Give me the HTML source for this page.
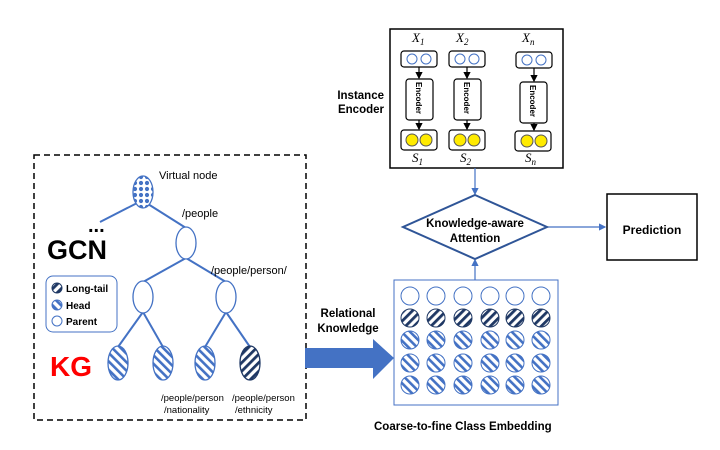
<!DOCTYPE html>
<html><head><meta charset="utf-8"><style>
body{margin:0;background:#fff;}
svg{display:block;font-family:"Liberation Sans",sans-serif;}
</style></head><body>
<svg width="720" height="450" viewBox="0 0 720 450" xmlns="http://www.w3.org/2000/svg">
<defs>
<pattern id="head" patternUnits="userSpaceOnUse" width="6" height="6" patternTransform="rotate(-45)">
<rect width="6" height="6" fill="#fff"/><rect width="2.6" height="6" fill="#4472c4"/></pattern>
<pattern id="tail" patternUnits="userSpaceOnUse" width="6" height="6" patternTransform="rotate(45)">
<rect width="6" height="6" fill="#fff"/><rect width="2.8" height="6" fill="#1f3864"/></pattern>
<pattern id="dots" patternUnits="userSpaceOnUse" width="6" height="6">
<rect width="6" height="6" fill="#fff"/><circle cx="3" cy="3" r="2.1" fill="#4472c4"/></pattern>
<marker id="ar" markerWidth="6" markerHeight="6" refX="5" refY="3" orient="auto"><path d="M0,0 L6,3 L0,6z" fill="#4472c4"/></marker>
<marker id="ak" markerWidth="6" markerHeight="6" refX="5" refY="3" orient="auto"><path d="M0,0 L6,3 L0,6z" fill="#000"/></marker>
</defs>

<rect x="34" y="155" width="272" height="265" fill="none" stroke="#000" stroke-width="1.5" stroke-dasharray="6,4"/>

<g stroke="#4472c4" stroke-width="2" fill="none">
<line x1="143" y1="200" x2="100" y2="222"/>
<line x1="148" y1="204" x2="186" y2="228"/>
<line x1="186" y1="258" x2="143" y2="282"/>
<line x1="186" y1="258" x2="226" y2="282"/>
<line x1="143" y1="312" x2="118" y2="347"/>
<line x1="143" y1="312" x2="163" y2="347"/>
<line x1="226" y1="312" x2="205" y2="347"/>
<line x1="226" y1="312" x2="250" y2="347"/>
</g>
<g stroke="#4472c4" stroke-width="1.3">
<ellipse cx="143" cy="192" rx="10" ry="16" fill="url(#dots)"/>
<ellipse cx="186" cy="243" rx="10" ry="16" fill="#fff"/>
<ellipse cx="143" cy="297" rx="10" ry="16" fill="#fff"/>
<ellipse cx="226" cy="297" rx="10" ry="16" fill="#fff"/>
<ellipse cx="118" cy="363" rx="10" ry="17" fill="url(#head)"/>
<ellipse cx="163" cy="363" rx="10" ry="17" fill="url(#head)"/>
<ellipse cx="205" cy="363" rx="10" ry="17" fill="url(#head)"/>
<ellipse cx="250" cy="363" rx="10" ry="17" fill="url(#tail)" stroke="#1f3864"/>
</g>
<text x="159" y="179" font-size="11">Virtual node</text>
<text x="182" y="217" font-size="11">/people</text>
<text x="211" y="274" font-size="11">/people/person/</text>
<text x="88" y="232" font-size="20" font-weight="bold">...</text>
<text x="47" y="259" font-size="27" font-weight="bold">GCN</text>
<text x="50" y="376" font-size="28" font-weight="bold" fill="#ff0000">KG</text>
<g font-size="9.5">
<text x="161" y="401">/people/person</text>
<text x="164" y="413">/nationality</text>
<text x="232" y="401">/people/person</text>
<text x="235" y="413">/ethnicity</text>
</g>
<rect x="46" y="276" width="71" height="56" rx="7" fill="#fff" stroke="#4472c4" stroke-width="1"/>
<g stroke="#1f3864" stroke-width="1">
<circle cx="57" cy="288" r="5" fill="url(#tail)"/>
<circle cx="57" cy="305" r="5" fill="url(#head)" stroke="#4472c4"/>
<circle cx="57" cy="321" r="5" fill="#fff" stroke="#4472c4"/>
</g>
<g font-size="10" font-weight="bold">
<text x="66" y="292">Long-tail</text>
<text x="66" y="309">Head</text>
<text x="66" y="325">Parent</text>
</g>

<path d="M305,348 L373,348 L373,339 L394,358 L373,379 L373,368 L305,368z" fill="#4472c4"/>
<text x="348" y="317" font-size="11.5" font-weight="bold" text-anchor="middle">Relational</text>
<text x="348" y="332" font-size="11.5" font-weight="bold" text-anchor="middle">Knowledge</text>

<text x="384" y="99" font-size="11.5" font-weight="bold" text-anchor="end">Instance</text>
<text x="384" y="113" font-size="11.5" font-weight="bold" text-anchor="end">Encoder</text>
<rect x="390" y="29" width="173" height="139" fill="#fff" stroke="#000" stroke-width="1.5"/>
<g font-family="Liberation Serif,serif" font-style="italic" font-size="13">
<text x="412" y="42">X<tspan font-size="9" dy="3">1</tspan></text>
<text x="456" y="42">X<tspan font-size="9" dy="3">2</tspan></text>
<text x="522" y="42">X<tspan font-size="9" dy="3">n</tspan></text>
<text x="412" y="162">S<tspan font-size="9" dy="3">1</tspan></text>
<text x="460" y="162">S<tspan font-size="9" dy="3">2</tspan></text>
<text x="525" y="162">S<tspan font-size="9" dy="3">n</tspan></text>
</g>
<g stroke="#000" stroke-width="1.2">
<rect x="401" y="51" width="36" height="16" rx="3" fill="#fff"/>
<rect x="406" y="79" width="27" height="41" rx="3" fill="#fff"/>
<rect x="401" y="130" width="36" height="20" rx="3" fill="#fff"/>
<line x1="419" y1="67" x2="419" y2="78" marker-end="url(#ak)"/>
<line x1="419" y1="120" x2="419" y2="129" marker-end="url(#ak)"/>
<rect x="449" y="51" width="36" height="16" rx="3" fill="#fff"/>
<rect x="454" y="79" width="27" height="41" rx="3" fill="#fff"/>
<rect x="449" y="130" width="36" height="20" rx="3" fill="#fff"/>
<line x1="467" y1="67" x2="467" y2="78" marker-end="url(#ak)"/>
<line x1="467" y1="120" x2="467" y2="129" marker-end="url(#ak)"/>
<rect x="516" y="52" width="36" height="16" rx="3" fill="#fff"/>
<rect x="520" y="82" width="27" height="41" rx="3" fill="#fff"/>
<rect x="515" y="131" width="36" height="20" rx="3" fill="#fff"/>
<line x1="534" y1="68" x2="534" y2="81" marker-end="url(#ak)"/>
<line x1="534" y1="123" x2="534" y2="130" marker-end="url(#ak)"/>
</g>
<g stroke="#4472c4" fill="#fff" stroke-width="1">
<circle cx="412" cy="59" r="5"/><circle cx="426" cy="59" r="5"/>
<circle cx="460" cy="59" r="5"/><circle cx="474" cy="59" r="5"/>
<circle cx="527" cy="60" r="5"/><circle cx="541" cy="60" r="5"/>
</g>
<g stroke="#555" fill="#ffeb00" stroke-width="1">
<circle cx="412" cy="140" r="6"/><circle cx="426" cy="140" r="6"/>
<circle cx="460" cy="140" r="6"/><circle cx="474" cy="140" r="6"/>
<circle cx="527" cy="141" r="6"/><circle cx="541" cy="141" r="6"/>
</g>
<g font-size="8" font-weight="bold">
<text transform="translate(416,82) rotate(90)">Encoder</text>
<text transform="translate(464,82) rotate(90)">Encoder</text>
<text transform="translate(530,85) rotate(90)">Encoder</text>
</g>

<line x1="475" y1="168" x2="475" y2="194" stroke="#4472c4" stroke-width="1.2" marker-end="url(#ar)"/>
<line x1="475" y1="280" x2="475" y2="260" stroke="#4472c4" stroke-width="1.2" marker-end="url(#ar)"/>
<line x1="547" y1="227" x2="605" y2="227" stroke="#4472c4" stroke-width="1.2" marker-end="url(#ar)"/>

<path d="M475,195 L547,227 L475,259 L403,227z" fill="#fff" stroke="#2f5597" stroke-width="2"/>
<text x="475" y="227" font-size="11.5" font-weight="bold" text-anchor="middle">Knowledge-aware</text>
<text x="475" y="242" font-size="11.5" font-weight="bold" text-anchor="middle">Attention</text>

<rect x="607" y="194" width="90" height="66" fill="#fff" stroke="#000" stroke-width="1.5"/>
<text x="652" y="234" font-size="12" font-weight="bold" text-anchor="middle">Prediction</text>

<rect x="394" y="280" width="164" height="125" fill="#fff" stroke="#4472c4" stroke-width="1"/>
<g stroke-width="1">
<g stroke="#4472c4" fill="#fff">
<circle cx="410" cy="296" r="9"/><circle cx="436" cy="296" r="9"/><circle cx="463" cy="296" r="9"/><circle cx="490" cy="296" r="9"/><circle cx="515" cy="296" r="9"/><circle cx="541" cy="296" r="9"/>
</g>
<g stroke="#1f3864" fill="url(#tail)">
<circle cx="410" cy="318" r="9"/><circle cx="436" cy="318" r="9"/><circle cx="463" cy="318" r="9"/><circle cx="490" cy="318" r="9"/><circle cx="515" cy="318" r="9"/><circle cx="541" cy="318" r="9"/>
</g>
<g stroke="#4472c4" fill="url(#head)">
<circle cx="410" cy="340" r="9"/><circle cx="436" cy="340" r="9"/><circle cx="463" cy="340" r="9"/><circle cx="490" cy="340" r="9"/><circle cx="515" cy="340" r="9"/><circle cx="541" cy="340" r="9"/>
<circle cx="410" cy="363" r="9"/><circle cx="436" cy="363" r="9"/><circle cx="463" cy="363" r="9"/><circle cx="490" cy="363" r="9"/><circle cx="515" cy="363" r="9"/><circle cx="541" cy="363" r="9"/>
<circle cx="410" cy="385" r="9"/><circle cx="436" cy="385" r="9"/><circle cx="463" cy="385" r="9"/><circle cx="490" cy="385" r="9"/><circle cx="515" cy="385" r="9"/><circle cx="541" cy="385" r="9"/>
</g>
</g>
<text x="374" y="430" font-size="11.5" font-weight="bold">Coarse-to-fine  Class Embedding</text>
</svg>
</body></html>
